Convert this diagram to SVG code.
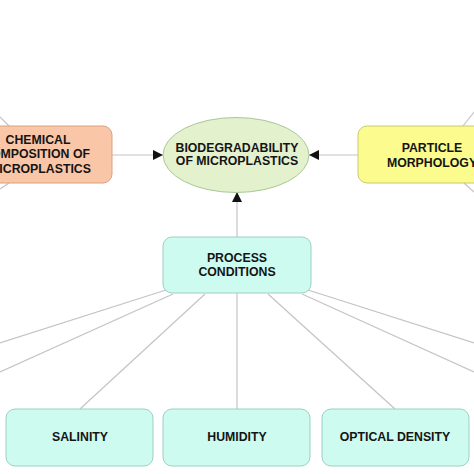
<svg xmlns="http://www.w3.org/2000/svg" width="474" height="474" viewBox="0 0 474 474">
<defs>
<style>
.t{font-family:"Liberation Sans",Arial,sans-serif;font-weight:bold;font-size:12.3px;fill:#141414;text-anchor:middle}
.c{stroke:#c4c4c4;stroke-width:1.2;fill:none}
.cy{fill:#cdfbf0;stroke:#9ccfc4;stroke-width:1}
</style>
<marker id="ah" viewBox="0 0 10 10" refX="10" refY="5" markerWidth="11" markerHeight="10" markerUnits="userSpaceOnUse" orient="auto">
<path d="M0,0 L10,5 L0,10 Z" fill="#111"/>
</marker>
</defs>
<rect width="474" height="474" fill="#fff"/>
<g id="connectors">
<line class="c" x1="112" y1="155" x2="163" y2="155" marker-end="url(#ah)"/>
<line class="c" x1="358" y1="155" x2="309" y2="155" marker-end="url(#ah)"/>
<line class="c" x1="237" y1="237" x2="237" y2="192" marker-end="url(#ah)"/>
<line class="c" x1="205" y1="294" x2="80" y2="409"/>
<line class="c" x1="237" y1="293" x2="237" y2="409"/>
<line class="c" x1="268" y1="294" x2="395" y2="409"/>
<line class="c" x1="166" y1="290" x2="0" y2="343"/>
<line class="c" x1="173" y1="294" x2="0" y2="372"/>
<line class="c" x1="308" y1="290" x2="474" y2="343"/>
<line class="c" x1="302" y1="294" x2="474" y2="372"/>
<line class="c" x1="9" y1="126" x2="0" y2="117"/>
<line class="c" x1="9" y1="183" x2="0" y2="189"/>
<line class="c" x1="463" y1="126" x2="474" y2="112"/>
<line class="c" x1="464" y1="183" x2="474" y2="192"/>
</g>
<g id="chemical">
<rect x="-36" y="126" width="148" height="57" rx="9" fill="#fac6a8" stroke="#d9a080"/>
<text class="t" x="38" y="144">CHEMICAL</text>
<text class="t" x="36" y="158">COMPOSITION OF</text>
<text class="t" x="40" y="173">MICROPLASTICS</text>
</g>
<g id="biodegradability">
<ellipse cx="236" cy="155" rx="73" ry="37.5" fill="#e3f1cd" stroke="#a9c69a"/>
<text class="t" x="237" y="152">BIODEGRADABILITY</text>
<text class="t" x="237" y="165">OF MICROPLASTICS</text>
</g>
<g id="particle">
<rect x="358" y="126" width="148" height="57" rx="9" fill="#fbfb8e" stroke="#c9c970"/>
<text class="t" x="432" y="152">PARTICLE</text>
<text class="t" x="432" y="167">MORPHOLOGY</text>
</g>
<g id="process">
<rect class="cy" x="163" y="237" width="148" height="56" rx="9"/>
<text class="t" x="237" y="262">PROCESS</text>
<text class="t" x="237" y="276">CONDITIONS</text>
</g>
<g id="salinity">
<rect class="cy" x="6" y="409" width="147" height="57" rx="9"/>
<text class="t" x="80" y="441">SALINITY</text>
</g>
<g id="humidity">
<rect class="cy" x="163" y="409" width="147" height="57" rx="9"/>
<text class="t" x="237" y="441">HUMIDITY</text>
</g>
<g id="optical">
<rect class="cy" x="322" y="409" width="147" height="57" rx="9"/>
<text class="t" x="395" y="441">OPTICAL DENSITY</text>
</g>
</svg>
